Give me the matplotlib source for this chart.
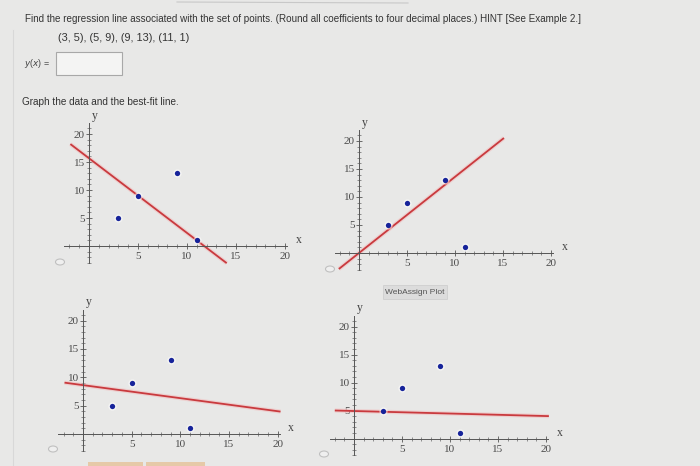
import matplotlib
matplotlib.use("Agg")
import matplotlib.pyplot as plt
from matplotlib.ticker import FixedLocator
from matplotlib.patches import Rectangle, Circle
import numpy as np

W, H = 700, 466
BG = "#e8e8e7"

# data points
px = [3, 5, 9, 11]
py = [5, 9, 13, 1]

# candidate lines: slope, intercept, x-domain
slopes = [-1.3333, 1.36, -0.23, -0.045]
intercepts = [15.667, 0.0, 8.62, 4.91]
x_from = [-1.9, -2.1, -1.9, -2.0]
x_to = [14.05, 15.1, 20.3, 20.3]

xmajor = [5, 10, 15, 20]
ymajor = [5, 10, 15, 20]
xminor = list(range(-2, 21))
yminor = list(range(-3, 22))

# layout (pixel origin of each small graph and pixels per unit)
origins = [(89, 246), (359, 253), (83, 434), (354, 438.5)]
units = [(9.8, 5.6), (9.6, 5.6), (9.73, 5.67), (9.6, 5.6)]
radios = [(60, 262), (330, 269), (53, 449), (324, 454)]

XL = (-3.5, 22.5)
YL = (-5.0, 23.5)

fig = plt.figure(figsize=(W / 100, H / 100), dpi=100, facecolor=BG)


def fx(p):
    return p / W


def fy(p):
    return 1 - p / H


# page text
sans = "Liberation Sans"
fig.text(fx(25), fy(19), "Find the regression line associated with the set of points. (Round all coefficients to four decimal places.) HINT [See Example 2.]",
         fontsize=7.1, family=sans, color="#333", va="center", ha="left")
fig.text(fx(58), fy(38), "(3, 5), (5, 9), (9, 13), (11, 1)", fontsize=7.8, family=sans, color="#333", va="center")
fig.text(fx(24), fy(64), "$y$($x$) =", fontsize=6.4, family=sans, color="#444", va="center")
fig.patches.append(Rectangle((fx(56), fy(75)), fx(122) - fx(56), fy(52) - fy(75), transform=fig.transFigure,
                             facecolor="#f4f4f3", edgecolor="#a8a8a8", linewidth=0.8))
fig.text(fx(22), fy(102), "Graph the data and the best-fit line.", fontsize=7.2, family=sans, color="#333", va="center")
fig.lines.append(plt.Line2D([fx(13), fx(13)], [0, fy(30)], transform=fig.transFigure, color="#d8d8d8", lw=0.8))
fig.lines.append(plt.Line2D([fx(177), fx(408)], [fy(2), fy(3)], transform=fig.transFigure, color="#c8c8c8", lw=0.8))

for i in range(4):
    ox, oy = origins[i]
    ux, uy = units[i]
    left = ox + XL[0] * ux
    right = ox + XL[1] * ux
    top = oy - YL[1] * uy
    bottom = oy - YL[0] * uy
    ax = fig.add_axes([fx(left), fy(bottom), (right - left) / W, (bottom - top) / H])
    ax.set_xlim(*XL)
    ax.set_ylim(*YL)
    ax.patch.set_alpha(0)
    for s in ["top", "right"]:
        ax.spines[s].set_visible(False)
    ax.spines["left"].set_position(("data", 0))
    ax.spines["bottom"].set_position(("data", 0))
    ax.spines["left"].set_bounds(-3.0, 21.9)
    ax.spines["bottom"].set_bounds(-2.55, 20.2)
    for s in ["left", "bottom"]:
        ax.spines[s].set_color("#555")
        ax.spines[s].set_linewidth(0.7)
    ax.xaxis.set_major_locator(FixedLocator(xmajor))
    ax.yaxis.set_major_locator(FixedLocator(ymajor))
    ax.xaxis.set_minor_locator(FixedLocator(xminor))
    ax.yaxis.set_minor_locator(FixedLocator(yminor))
    ax.tick_params(which="major", direction="inout", length=5, width=0.6, color="#555",
                   labelsize=8, labelcolor="#4a4a4a", pad=2)
    ax.tick_params(which="minor", direction="inout", length=2.5, width=0.5, color="#666")
    ax.tick_params(axis="y", pad=0.5)
    for lab in ax.get_xticklabels() + ax.get_yticklabels():
        lab.set_family("Liberation Serif")
    ax.text(0.6, 23.3, "y", fontsize=8.5, family="Liberation Serif", color="#444", ha="center", va="center")
    ax.text(21.4, 1.0, "x", fontsize=8.5, family="Liberation Serif", color="#444", ha="center", va="center")

    xs = np.array([x_from[i], x_to[i]])
    ys = slopes[i] * xs + intercepts[i]
    ax.plot(xs, ys, color="#f2b8b8", lw=3.0, alpha=0.5, solid_capstyle="butt", clip_on=False)
    ax.plot(xs, ys, color="#c93a3e", lw=1.3, solid_capstyle="butt", clip_on=False)
    ax.plot(px, py, "o", ms=6, color="white", alpha=0.5, mec="none", zorder=3)
    ax.plot(px, py, "o", ms=3.8, color="#16239a", mec="none", zorder=4)

    rx, ry = radios[i]
    fig.patches.append(Circle((fx(rx), fy(ry)), 4.5 / W, transform=fig.transFigure,
                              facecolor="#efefef", edgecolor="#c0c0c0", lw=0.8))

# tooltip
fig.patches.append(Rectangle((fx(383), fy(299)), fx(447) - fx(383), fy(285) - fy(299), transform=fig.transFigure,
                             facecolor="#dcdcdc", edgecolor="#cfcfcf", lw=0.6))
fig.text(fx(415), fy(292), "WebAssign Plot", fontsize=6.0, family=sans, color="#555", ha="center", va="center")

# bottom buttons (partially visible)
fig.patches.append(Rectangle((fx(88), 0), fx(143) - fx(88), fy(462), transform=fig.transFigure,
                             facecolor="#e6c9a8", edgecolor="none"))
fig.patches.append(Rectangle((fx(146), 0), fx(205) - fx(146), fy(462), transform=fig.transFigure,
                             facecolor="#e6c9a8", edgecolor="none"))

fig.savefig("out.png", dpi=100, facecolor=BG)
